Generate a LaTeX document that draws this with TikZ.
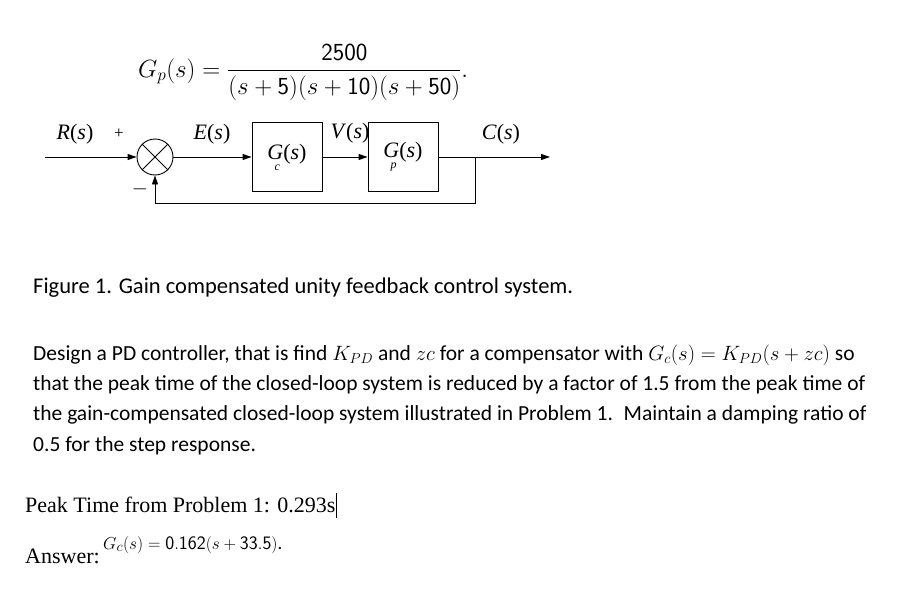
\documentclass[tikz,border=0pt]{standalone}
\usepackage{fontspec}
\usepackage{amsmath}
\setmainfont{Carlito}
\newfontfamily\tnr{Liberation Serif}
\usetikzlibrary{arrows.meta}
\newcommand\myi[1]{\textit{#1}}
\newcommand\mysub[1]{\rlap{\kern-0.4em\raisebox{-0.5em}{\fontsize{12}{12}\selectfont\itshape #1}}}
\begin{document}
\begin{tikzpicture}[x=1pt,y=-1pt,
  blk/.style={draw,line width=0.9pt,minimum width=70pt,minimum height=69pt,inner sep=0},
  sig/.style={line width=0.9pt,-{Triangle[length=9pt,width=6pt]}},
  ln/.style={line width=0.9pt},
  lab/.style={font=\tnr\fontsize{22}{22}\selectfont,inner sep=0},
  txt/.style={anchor=west,inner sep=0,font=\fontsize{21.5}{21.5}\selectfont}]
\useasboundingbox (0,0) rectangle (921,597);
% equation
\node[anchor=west,inner sep=0,font=\fontsize{24.5}{24.5}\selectfont] (eq) at (138,72)
  {$G_p(s)=\dfrac{\mathsf{2500}}{(s+\mathsf{5})(s+\mathsf{10})(s+\mathsf{50})}.$};
% diagram
\coordinate (in) at (45,157);
\node[draw,circle,line width=0.9pt,minimum size=36pt,inner sep=0] (sum) at (155,157) {};
\draw[line width=0.9pt] (sum.45) -- (sum.225) (sum.135) -- (sum.315);
\node[blk,font=\tnr\fontsize{22}{22}\selectfont] (gc) at (287,157) {\myi{G}\mysub{c}(\myi{s})};
\node[blk,font=\tnr\fontsize{22}{22}\selectfont] (gp) at (403,157) {\myi{G}\mysub{p}(\myi{s})};
\coordinate (br) at (475,157);
\coordinate (out) at (550,157);
\coordinate (fb1) at (475,203);
\coordinate (fb2) at (155,203);
\draw[sig] (in) -- (sum);
\draw[sig] (sum) -- (gc);
\draw[sig] (gc) -- (gp);
\draw[sig] (gp) -- (out);
\draw[ln] (br) -- (fb1) -- (fb2);
\draw[sig] (fb2) -- (sum);
\node[lab] (r) at (75,134) {\myi{R}(\myi{s})};
\node[font=\tnr\fontsize{17}{17}\selectfont] (plus) at (119,134) {+};
\node[font=\tnr\fontsize{20}{20}\selectfont] (minus) at (140,189) {$-$};
\node[lab] (e) at (212,134) {\myi{E}(\myi{s})};
\node[lab] (v) at (350,133) {\myi{V}(\myi{s})};
\node[lab] (c) at (501,134) {\myi{C}(\myi{s})};
% text
\node[txt,font=\fontsize{22.5}{22.5}\selectfont] (cap) at (33,288) {Figure 1. Gain compensated unity feedback control system.};
\node[txt] (p1) at (33,355) {Design a PD controller, that is find $K_{PD}$ and $zc$ for a compensator with $G_c(s)=K_{PD}(s+zc)$ so};
\node[txt] (p2) at (33,385) {that the peak time of the closed-loop system is reduced by a factor of 1.5 from the peak time of};
\node[txt] (p3) at (33,415) {the gain-compensated closed-loop system illustrated in Problem 1.\enspace Maintain a damping ratio of};
\node[txt] (p4) at (33,446) {0.5 for the step response.};
\node[anchor=west,inner sep=0,font=\tnr\fontsize{22}{22}\selectfont] (pt) at (25,505) {Peak Time from Problem 1: 0.293s};
\draw[line width=0.6pt] (pt.east) ++(1,-12) -- ++(0,25);
\node[anchor=west,inner sep=0,font=\tnr\fontsize{22}{22}\selectfont] (ans) at (25,556) {Answer:};
\node[anchor=west,inner sep=0,font=\fontsize{19}{19}\selectfont] (af) at (103,545) {$G_c(s)=\mathsf{0.162}(s+\mathsf{33.5})$.};
\end{tikzpicture}
\end{document}
